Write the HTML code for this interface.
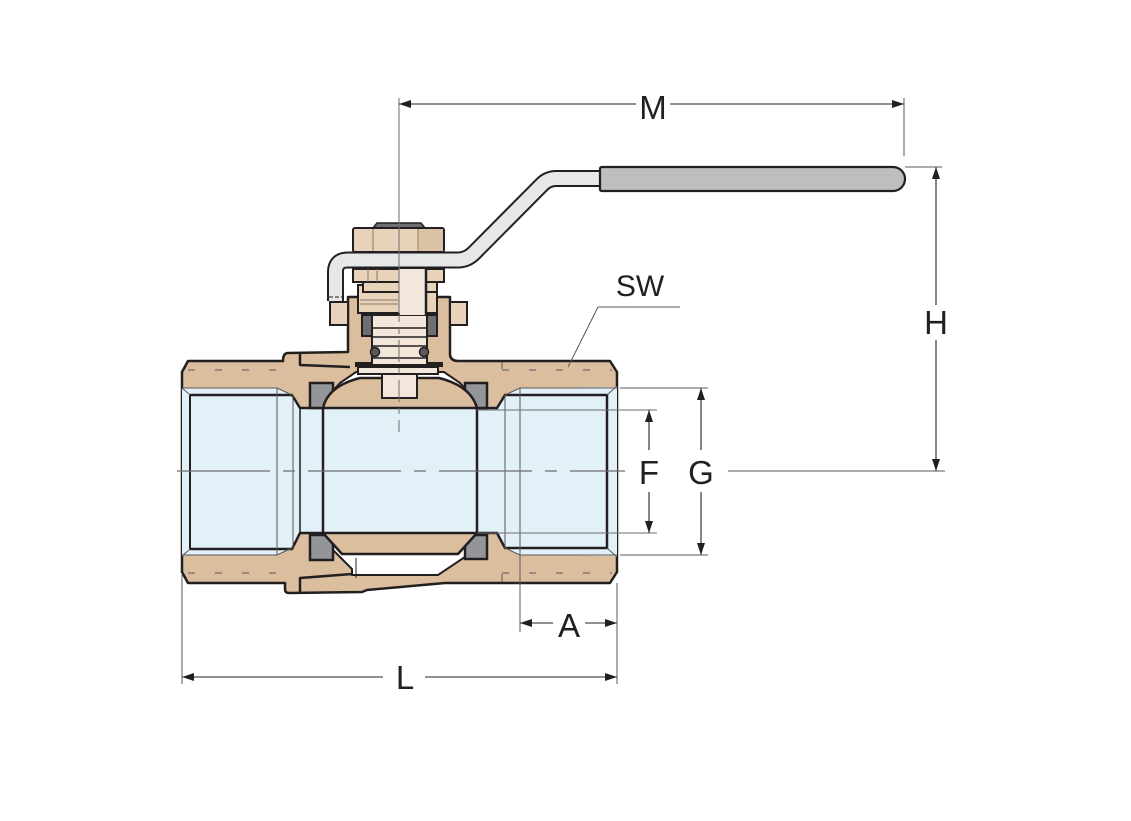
<!DOCTYPE html>
<html><head><meta charset="utf-8"><style>
html,body{margin:0;padding:0;background:#fff;}
svg{display:block;}
text{font-family:"Liberation Sans",sans-serif;fill:#231f20;}
</style></head><body>
<svg width="1131" height="821" viewBox="0 0 1131 821" xmlns="http://www.w3.org/2000/svg">
<rect width="1131" height="821" fill="#fff"/>

<!-- main body -->
<path d="M188,361 L283,361 Q283,353 288,353 L348,352 L348,297 L450,297 L450,355 Q451,361 458,361 L610,361 L617,372 L617,572 L610,583 L445,583 L367,590 L362,592 L289,593 Q285,593 285,589 L285,583 L188,583 L182,572 L182,372 Z" fill="#dbbe9d" stroke="#231f20" stroke-width="2.5" stroke-linejoin="round"/>

<!-- bore -->
<path d="M182,388 L277,388 L292,395 L300,408 L497,408 L505,395 L520,388 L617,387 L617,556 L520,555 L505,548 L497,533 L300,533 L292,548 L277,555 L182,555 Z" fill="#e2f0f7"/>
<g stroke="#231f20" fill="none" stroke-width="2.5">
<path d="M190,395 L292,395 L300,408 L323,408"/>
<path d="M190,549 L292,549 L300,533 L323,533"/>
<path d="M190,395 L190,549" stroke-width="2"/>
<path d="M477,408 L497,408 L505,395 L607,395 L607,548 L505,548 L497,533 L477,533"/>
<path d="M300,408 L300,533" stroke-width="1.5"/>
</g>
<g stroke="#58595b" fill="none" stroke-width="1">
<path d="M182,388 L190,395 M182,556 L190,549 M182,388 L277,388 L292,395 M182,555 L277,555 L292,548"/>
<path d="M277,388 L277,555 M293,395 L293,548"/>
<path d="M607,395 L617,386 M607,548 L617,557 M520,388 L617,388 M505,395 L520,388 M520,555 L617,555 M505,548 L520,555"/>
<path d="M505,395 L505,548 M520,388 L520,632"/>
</g>

<!-- thread dashes -->
<g stroke="#6d6e71" stroke-width="1.2" fill="none" stroke-dasharray="7 20">
<path d="M188,370 L283,370"/>
<path d="M188,573 L283,573"/>
<path d="M502,370 L612,370"/>
<path d="M502,573 L612,573"/>
</g>
<path d="M502,362 L502,369 M502,574 L502,582" stroke="#58595b" stroke-width="1"/>

<!-- joint lines -->
<g stroke="#231f20" fill="none" stroke-width="2.5" stroke-linejoin="round">
<path d="M300,352 L300,365 L350,367"/>
<path d="M300,592 L300,578 L352,574"/>
</g>

<!-- white gaps -->
<path d="M323,408 L328,396 L340,383 L356,372 L444,372 L460,383 L472,396 L477,408 Z" fill="#fff" stroke="#231f20" stroke-width="2"/>
<path d="M323,533 L333,550 L352,569 L352,575 L438,575 L465,557 L477,533 Z" fill="#fff" stroke="#231f20" stroke-width="2"/>
<path d="M356,558 L356,578" stroke="#231f20" stroke-width="1"/>

<!-- seats -->
<g fill="#939598" stroke="#231f20" stroke-width="2.5">
<rect x="310" y="383" width="23" height="25"/>
<rect x="310" y="535" width="23" height="25"/>
<rect x="465" y="383" width="22" height="25"/>
<rect x="465" y="535" width="22" height="24"/>
</g>

<!-- ball -->
<rect x="323" y="408" width="154" height="125" fill="#e2f0f7"/>
<path d="M323,408 L323,533 M477,408 L477,533" stroke="#231f20" stroke-width="2.5"/>
<path d="M323,408 Q328,386 360,378 L439,378 Q471,386 477,408 Z" fill="#dbbe9d" stroke="#231f20" stroke-width="2.5" stroke-linejoin="round"/>
<path d="M323,533 L342,554 L458,554 L477,533 Z" fill="#dbbe9d" stroke="#231f20" stroke-width="2.5" stroke-linejoin="round"/>

<!-- F ext lines through bore -->
<path d="M477,410 L657,410 M477,533 L657,533" stroke="#6d6e71" stroke-width="1"/>

<!-- stem assembly -->
<rect x="355" y="362" width="88" height="5" fill="#231f20"/>
<rect x="358" y="285" width="79" height="28" fill="#e8d3ba" stroke="#231f20" stroke-width="2"/>
<path d="M360,300 L398,300 M360,304 L398,304" stroke="#8a7a6a" stroke-width="1"/>
<rect x="363" y="282" width="74" height="10" fill="#e8d3ba" stroke="#231f20" stroke-width="2"/>
<rect x="362" y="315" width="10" height="21" fill="#6d6e71" stroke="#231f20" stroke-width="2"/>
<rect x="427" y="315" width="10" height="21" fill="#6d6e71" stroke="#231f20" stroke-width="2"/>
<rect x="372" y="315" width="55" height="50" fill="#f3e6da" stroke="#231f20" stroke-width="2"/>
<path d="M372,328 L427,328 M372,337 L427,337 M372,346 L427,346 M372,358 L427,358" stroke="#231f20" stroke-width="1.5"/>
<circle cx="375" cy="352" r="4.5" fill="#58595b" stroke="#231f20" stroke-width="1.5"/>
<circle cx="424" cy="352" r="4.5" fill="#58595b" stroke="#231f20" stroke-width="1.5"/>
<rect x="358" y="367" width="80" height="7" fill="#f3e6da" stroke="#231f20" stroke-width="2"/>
<rect x="382" y="374" width="35" height="24" fill="#f3e6da" stroke="#231f20" stroke-width="2"/>
<rect x="353" y="269" width="91" height="13" fill="#e8d3ba" stroke="#231f20" stroke-width="2"/>
<path d="M368,269 L368,282 M377,269 L377,282" stroke="#8a7a6a" stroke-width="1"/>
<rect x="399" y="269" width="27" height="46" fill="#f3e6da"/>
<path d="M426,269 L426,315" stroke="#231f20" stroke-width="2.5"/>
<path d="M399,313 L399,316" stroke="#231f20" stroke-width="2"/>

<!-- handle rod -->
<path d="M603,178.5 L556,178.5 Q548,178.5 542,184.5 L474,253 Q467,260 458,260 L348,260 Q335.5,260 335.5,272 L335.5,301" fill="none" stroke="#231f20" stroke-width="17" stroke-linejoin="round"/>
<path d="M603,178.5 L556,178.5 Q548,178.5 542,184.5 L474,253 Q467,260 458,260 L348,260 Q335.5,260 335.5,272 L335.5,301" fill="none" stroke="#e6e7e8" stroke-width="13" stroke-linejoin="round"/>
<path d="M329,297 L342,297" stroke="#231f20" stroke-width="1" stroke-dasharray="4 2"/>

<!-- grip -->
<path d="M602,167 L893,167 A12,12 0 0 1 893,191 L602,191 Q600,191 600,189 L600,169 Q600,167 602,167 Z" fill="#bcbec0" stroke="#231f20" stroke-width="2.2"/>

<!-- lugs -->
<rect x="330" y="302" width="18" height="23" fill="#e8d3ba" stroke="#231f20" stroke-width="2"/>
<rect x="450" y="302" width="17" height="23" fill="#e8d3ba" stroke="#231f20" stroke-width="2"/>

<!-- top nut -->
<path d="M373,228 L377,223 L421,223 L425,228 Z" fill="#6d6e71" stroke="#231f20" stroke-width="1.5"/>
<rect x="353" y="228" width="91" height="24" rx="2" fill="#e8d3ba" stroke="#231f20" stroke-width="2"/>
<rect x="419" y="229" width="24" height="22" fill="#dcc2a4"/>
<path d="M373,229 L373,251 M418,229 L418,251" stroke="#8a7a6a" stroke-width="1"/>

<!-- centerlines -->
<path d="M399,98 L399,300" stroke="#6d6e71" stroke-width="1"/>
<path d="M399,300 L399,432" stroke="#6d6e71" stroke-width="1" stroke-dasharray="22 6 6 6"/>
<path d="M177,471 L625,471" stroke="#6d6e71" stroke-width="1.2" stroke-dasharray="93 13 12 13"/>

<!-- dimension lines -->
<g stroke="#231f20" stroke-width="1.1" fill="none">
<path d="M399,104 L636,104 M670,104 L904,104"/>
<path d="M936,167 L936,305 M936,340 L936,471"/>
<path d="M649,410 L649,450 M649,492 L649,533"/>
<path d="M701,388 L701,450 M701,492 L701,555"/>
<path d="M520,623 L553,623 M585,623 L617,623"/>
<path d="M182,677 L383,677 M425,677 L617,677"/>
</g>
<g stroke="#58595b" stroke-width="1" fill="none">
<path d="M904,98 L904,156"/>
<path d="M905,167 L942,167"/>
<path d="M728,471 L945,471"/>
<path d="M620,388 L708,388 M620,555 L708,555"/>
<path d="M617,583 L617,684"/>
<path d="M182,575 L182,684"/>
<path d="M598,307 L680,307 M598,307 L568,367"/>
</g>
<g fill="#231f20">
<polygon points="399,104 411,100 411,108"/>
<polygon points="904,104 892,100 892,108"/>
<polygon points="936,167 932,179 940,179"/>
<polygon points="936,471 932,459 940,459"/>
<polygon points="649,410 645,422 653,422"/>
<polygon points="649,533 645,521 653,521"/>
<polygon points="701,388 697,400 705,400"/>
<polygon points="701,555 697,543 705,543"/>
<polygon points="520,623 532,619 532,627"/>
<polygon points="617,623 605,619 605,627"/>
<polygon points="182,677 194,673 194,681"/>
<polygon points="617,677 605,673 605,681"/>
</g>

<!-- labels -->
<text x="653" y="119" font-size="33" text-anchor="middle">M</text>
<text x="936" y="334" font-size="33" text-anchor="middle">H</text>
<text x="649" y="484" font-size="33" text-anchor="middle">F</text>
<text x="701" y="484" font-size="33" text-anchor="middle">G</text>
<text x="569" y="637" font-size="33" text-anchor="middle">A</text>
<text x="405" y="689" font-size="33" text-anchor="middle">L</text>
<text x="640" y="296" font-size="30" text-anchor="middle">SW</text>
</svg>
</body></html>
